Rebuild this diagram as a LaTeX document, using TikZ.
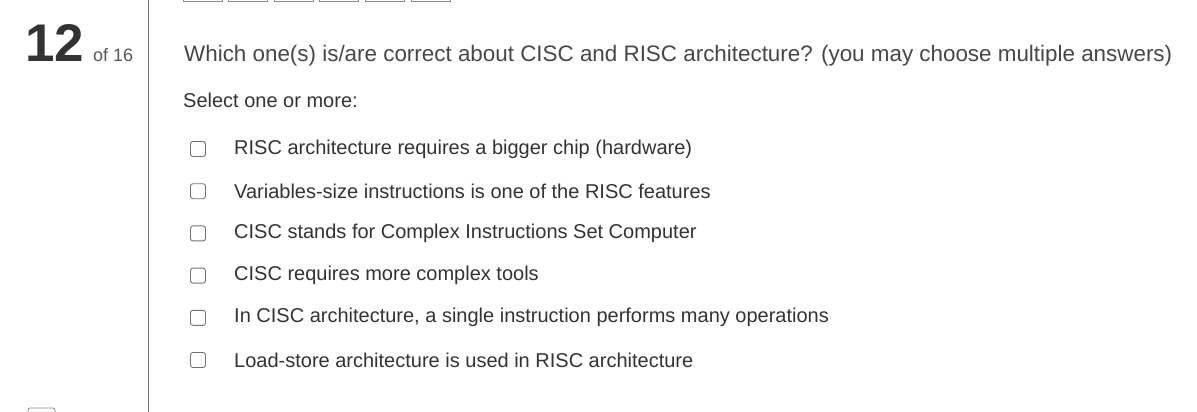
\documentclass[tikz,border=0pt]{standalone}
\usepackage{fontspec}
\setmainfont{Liberation Sans}
\begin{document}
\begin{tikzpicture}[x=1pt,y=-1pt,
  opt/.style={anchor=west,font=\fontsize{20}{22}\selectfont,text=black!80,inner sep=0pt},
  cb/.style={draw=black!55,rounded corners=2.5pt,line width=0.9pt,minimum width=15pt,minimum height=15pt,inner sep=0pt},
  tab/.style={draw=black!45,line width=0.8pt}]
\useasboundingbox[fill=white] (0,0) rectangle (1197,412);
\draw[black!55,line width=0.9pt] (148,0) -- (148,412);
\foreach \i in {0,...,5}{
  \draw[tab] (183+\i*45.6,-3) rectangle (222+\i*45.6,1.5);}
\draw[tab,rounded corners=2pt] (28,412) -- (28,408) -- (55,408) -- (55,412);
\node[anchor=base west,inner sep=0pt,font=\bfseries\fontsize{53}{53}\selectfont,text=black!80] (num) at (25,62) {12};
\node[anchor=base west,inner sep=0pt,font=\fontsize{18}{18}\selectfont,text=black!65] (of) at (93,62) {of 16};
\node[anchor=base west,inner sep=0pt,font=\fontsize{22.4}{24}\selectfont,text=black!72] (q) at (184,62) {Which one(s) is/are correct about CISC and RISC architecture? (you may choose multiple answers)};
\node[anchor=base west,inner sep=0pt,font=\fontsize{20}{22}\selectfont,text=black!80] (sel) at (183,107) {Select one or more:};
\foreach \t [count=\k] in {RISC architecture requires a bigger chip (hardware),
  Variables-size instructions is one of the RISC features,
  CISC stands for Complex Instructions Set Computer,
  CISC requires more complex tools,
  {In CISC architecture, a single instruction performs many operations},
  Load-store architecture is used in RISC architecture}{
  \pgfmathsetmacro{\yy}{149+(\k-1)*42.2}
  \node[cb] (c\k) at (198,\yy) {};
  \node[opt] (o\k) at (234,\yy) {\t};}
\end{tikzpicture}
\end{document}
